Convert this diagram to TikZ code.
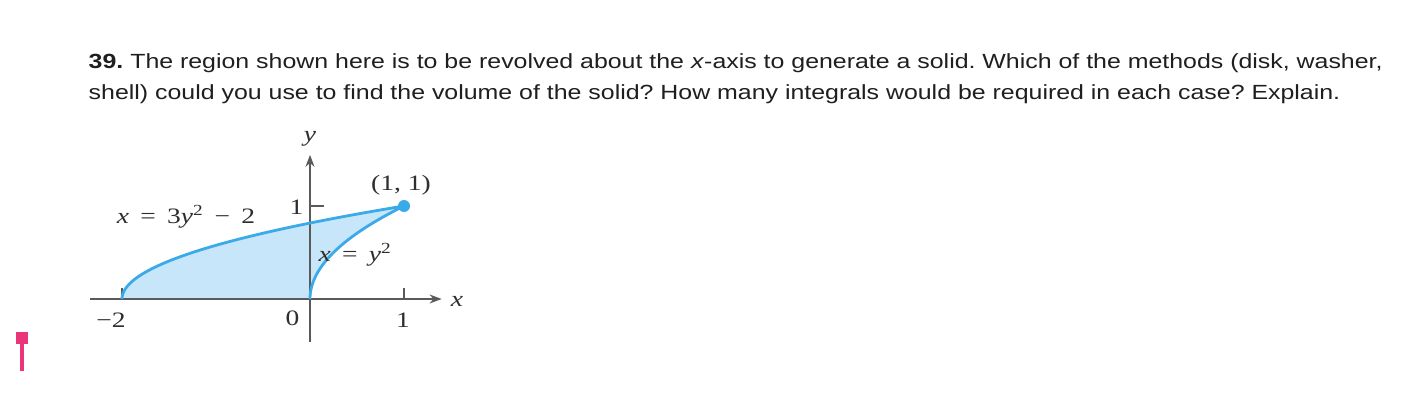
\documentclass[tikz,border=0pt]{standalone}
\usepackage{fontspec}
\setmainfont{Liberation Sans}
\newfontfamily\figfont{Liberation Serif}
\usetikzlibrary{arrows.meta}
\frenchspacing
\definecolor{curveblue}{RGB}{58,170,232}
\definecolor{fillblue}{RGB}{200,230,250}
\definecolor{axisgray}{RGB}{90,90,90}
\definecolor{markpink}{RGB}{232,54,121}
\newcommand{\gapsp}{\hspace{0.41em}}
\tikzset{
  bodytext/.style={anchor=base west, inner sep=0pt, font=\fontsize{20.5}{24}\selectfont, text=black!88, xscale=1.215, transform shape},
  figlabel/.style={inner sep=0pt, font=\figfont\fontsize{22}{26}\selectfont, text=black!82, xscale=1.25, transform shape},
  axisline/.style={draw=axisgray, line width=1.4pt},
  curve/.style={draw=curveblue, line width=2.8pt},
  axisarrow/.style={-{Stealth[length=12pt,width=9pt]}},
}
\begin{document}
\begin{tikzpicture}[x=1pt,y=-1pt]
\useasboundingbox (0,0) rectangle (1416,406);
\fill[white] (0,0) rectangle (1416,406);
% pink marker
\fill[markpink] (16,332) rectangle (28,344);
\fill[markpink] (20,344) rectangle (24,370.5);
% text
\node[bodytext] (line1) at (88.5,69) {\textbf{39.} The region shown here is to be revolved about the \textit{x}-axis to generate a solid. Which of the methods (disk, washer,};
\node[bodytext] (line2) at (88.5,99.5) {shell) could you use to find the volume of the solid? How many integrals would be required in each case? Explain.};
% graph
\begin{scope}[shift={(310pt,-299pt)}, x=94pt, y=93pt]
  \fill[fillblue] (-2,0) -- (0,0) -- plot[variable=\t, domain=0:1, samples=60] ({\t*\t},\t) -- plot[variable=\t, domain=1:0, samples=60] ({3*\t*\t-2},\t) -- cycle;
  \coordinate (xs) at (-2.34,0);
  \coordinate (xe) at (1.4,0);
  \coordinate (ys) at (0,-0.46);
  \coordinate (ye) at (0,1.55);
  \draw[axisline, axisarrow] (xs) -- (xe);
  \draw[axisline, axisarrow] (ys) -- (ye);
  \draw[axisline] (-2,0) -- (-2,0.12);
  \draw[axisline] (1,0) -- (1,0.12);
  \draw[axisline] (0,1) -- (0.15,1);
  \draw[curve] plot[variable=\t, domain=0:1, samples=60] ({\t*\t},\t);
  \draw[curve] plot[variable=\t, domain=0:1, samples=60] ({3*\t*\t-2},\t);
  \fill[curveblue] (1,1) circle (6pt);
\end{scope}
\node[figlabel] (ylab) at (310,139) {\textit{y}};
\node[figlabel] (xlab) at (457,301) {\textit{x}};
\node[figlabel] (pt) at (401,185) {(1, 1)};
\node[figlabel] (one) at (296.5,207) {1};
\node[figlabel] (left) at (186,217) {\textit{x}\gapsp=\gapsp3\textit{y}\textsuperscript{2}\gapsp−\gapsp2};
\node[figlabel] (right) at (355,255) {\textit{x}\gapsp=\gapsp\textit{y}\textsuperscript{2}};
\node[figlabel] (m2) at (111,320) {−2};
\node[figlabel] (zero) at (292.5,318) {0};
\node[figlabel] (onex) at (403,320) {1};
\end{tikzpicture}
\end{document}
